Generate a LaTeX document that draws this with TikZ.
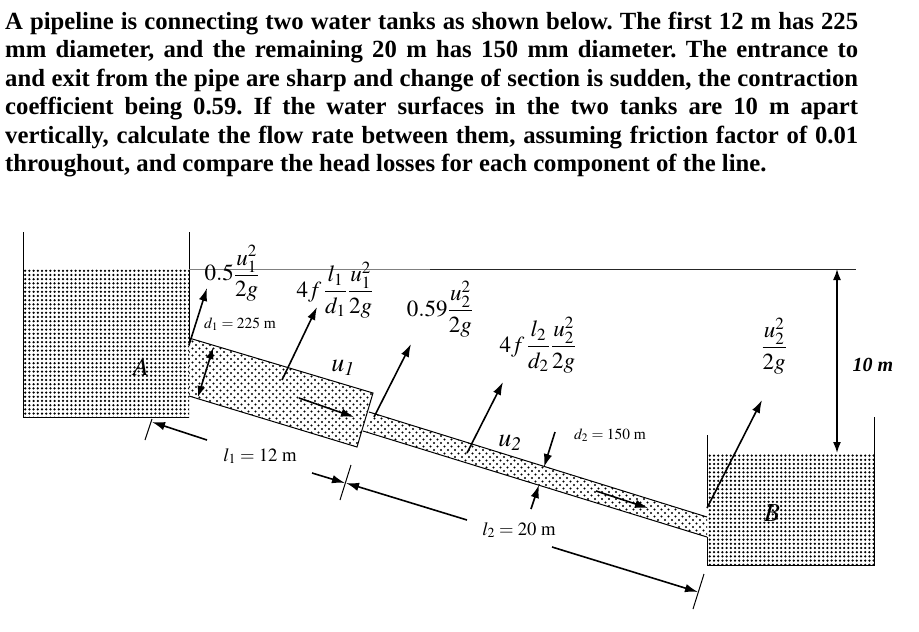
\documentclass[tikz,border=0pt]{standalone}
\usepackage{amsmath}
\usepackage[no-math]{fontspec}
\usepackage{mathptmx}
\setmainfont{Liberation Serif}
\frenchspacing
\usepackage{tikz}
\usetikzlibrary{arrows.meta, patterns.meta}
\tikzstyle{wall} = [draw, line width=1pt]
\tikzstyle{flow} = [line width=1.6pt, -{Latex[length=13pt,width=8.5pt]}]
\tikzstyle{flowboth} = [line width=1.6pt, {Latex[length=11pt,width=8pt]}-{Latex[length=11pt,width=8pt]}]
\tikzstyle{water} = [pattern={Dots[distance=4.2pt,radius=1.25pt]}]
\tikzstyle{pipefill} = [pattern={Dots[distance=7pt,radius=1.15pt]}, preaction={pattern={Dots[distance=7pt,radius=1.15pt,xshift=3.5pt,yshift=3.5pt]}}]
\tikzstyle{loss} = [inner sep=0pt, font=\fontsize{23}{25}\selectfont]
\tikzstyle{dim} = [inner sep=0pt, font=\fontsize{18.7}{20}\selectfont]
\tikzstyle{small} = [inner sep=0pt, font=\fontsize{15.4}{17}\selectfont]
\tikzstyle{tag} = [inner sep=0pt, font=\fontsize{26}{28}\selectfont]

\begin{document}
\begin{tikzpicture}[x=1pt, y=-1pt]
        \useasboundingbox (0,0) rectangle (919,632);
        \node[anchor=north west, inner sep=0pt, text width=853pt, align=justify, font=\fontsize{24.7}{28.4}\selectfont\bfseries] (problem) at (5,12) {A pipeline is connecting two water tanks as shown below. The first 12 m has 225\linebreak mm diameter, and the remaining 20 m has 150 mm diameter. The entrance to\linebreak and exit from the pipe are sharp and change of section is sudden, the contraction\linebreak coefficient being 0.59. If the water surfaces in the two tanks are 10 m apart\linebreak vertically, calculate the flow rate between them, assuming friction factor of 0.01\linebreak throughout, and compare the head losses for each component of the line.};

        \fill[water] (23,269) rectangle (189,417);
        \fill[water] (707,454) rectangle (874,565);
        \fill[pipefill] (189,338) -- (373,393) -- (357,447) -- (189,396) -- cycle;
        \fill[pipefill] (373,413) -- (707,517) -- (707,537) -- (365,431) -- cycle;

        \coordinate (pipeAtop) at (189,338);
        \coordinate (pipeAbot) at (189,396);
        \coordinate (stepTop) at (373,393);
        \coordinate (stepBot) at (357,447);
        \coordinate (pipeBtop) at (369,412);
        \coordinate (pipeBbot) at (363,431);
        \coordinate (exitTop) at (707,517);
        \coordinate (exitBot) at (707,537);
        \coordinate (surfA) at (189,269);
        \coordinate (surfMid) at (430,269);
        \coordinate (surfEnd) at (856,269);

        \draw[wall] (23,232) -- (23,417) -- (189,417);
        \draw[wall] (189,232) -- (189,345);
        \draw[wall] (707,435) -- (707,507);
        \draw[wall] (707,537) -- (707,565) -- (874,565) -- (874,417);
        \draw[wall] (pipeAtop) -- (stepTop) -- (stepBot) -- (pipeAbot);
        \draw[wall] (pipeBtop) -- (exitTop);
        \draw[wall] (pipeBbot) -- (exitBot);
        \draw[line width=0.7pt, gray] (surfA) -- (surfMid);
        \draw[line width=1pt, black!85] (surfMid) -- (surfEnd);

        \node[loss] (lossEntry) at (232,273.5) {$0.5\dfrac{u_1^2}{2g}$};
        \node[loss] (lossPipeA) at (335,290) {$4f\,\dfrac{l_1}{d_1}\kern1pt\dfrac{u_1^2}{2g}$};
        \node[loss] (lossStep) at (440,309) {$0.59\dfrac{u_2^2}{2g}$};
        \node[loss] (lossPipeB) at (538,345) {$4f\,\dfrac{l_2}{d_2}\kern1pt\dfrac{u_2^2}{2g}$};
        \node[loss] (lossExit) at (774,346) {$\dfrac{u_2^2}{2g}$};

        \node[small] (dA) at (240,324) {$d_1=225$ m};
        \node[small] (dB) at (610,435) {$d_2=150$ m};
        \node[dim] (lA) at (260,456) {$l_1=12$ m};
        \node[dim] (lB) at (519,530) {$l_2=20$ m};
        \node[tag] (uA) at (343,368) {$u_{\mathit{1}}$};
        \node[tag] (uB) at (510,443) {$u_{\mathit{2}}$};
        \node[inner sep=0pt, font=\fontsize{20}{22}\selectfont\bfseries\itshape] (head) at (873,365) {10 m};
        \node[tag] (tankA) at (141,367) {$A$};
        \node[tag] (tankB) at (772,513) {$B$};

        \coordinate (e1) at (189,345);
        \coordinate (e2) at (207,288);
        \coordinate (f1) at (282,380);
        \coordinate (f2) at (317,307);
        \coordinate (c1) at (374,417);
        \coordinate (c2) at (411,344);
        \coordinate (g1) at (467,453);
        \coordinate (g2) at (503,382);
        \coordinate (x1) at (707,508);
        \coordinate (x2) at (762,400);
        \draw[flow] (e1) -- (e2);
        \draw[flow] (f1) -- (f2);
        \draw[flow] (c1) -- (c2);
        \draw[flow] (g1) -- (g2);
        \draw[flow] (x1) -- (x2);

        \coordinate (dA1) at (213,348);
        \coordinate (dA2) at (198,397);
        \coordinate (h1) at (837,269);
        \coordinate (h2) at (837,453);
        \draw[flowboth] (dA1) -- (dA2);
        \draw[flowboth] (h1) -- (h2);

        \coordinate (uA1) at (299,398);
        \coordinate (uA2) at (354,417);
        \coordinate (uB1) at (596,491);
        \coordinate (uB2) at (648,508);
        \coordinate (dB1) at (555,432);
        \coordinate (dB2) at (544,467);
        \coordinate (dB3) at (531,509);
        \coordinate (dB4) at (539,485);
        \draw[flow] (uA1) -- (uA2);
        \draw[flow] (uB1) -- (uB2);
        \draw[flow] (dB1) -- (dB2);
        \draw[flow] (dB3) -- (dB4);

        \coordinate (t1a) at (152,419);
        \coordinate (t1b) at (145,440);
        \coordinate (t2a) at (351,465);
        \coordinate (t2b) at (340,500);
        \coordinate (t3a) at (704,574);
        \coordinate (t3b) at (693,609);
        \draw[line width=1pt] (t1a) -- (t1b);
        \draw[line width=1pt] (t2a) -- (t2b);
        \draw[line width=1pt] (t3a) -- (t3b);

        \coordinate (lA1) at (207,440);
        \coordinate (lA2) at (152,422);
        \coordinate (lA3) at (312,473);
        \coordinate (lA4) at (345,483);
        \coordinate (lB1) at (467,520);
        \coordinate (lB2) at (346,483);
        \coordinate (lB3) at (552,547);
        \coordinate (lB4) at (698,592);
        \draw[flow] (lA1) -- (lA2);
        \draw[flow] (lA3) -- (lA4);
        \draw[flow] (lB1) -- (lB2);
        \draw[flow] (lB3) -- (lB4);
\end{tikzpicture}
\end{document}
